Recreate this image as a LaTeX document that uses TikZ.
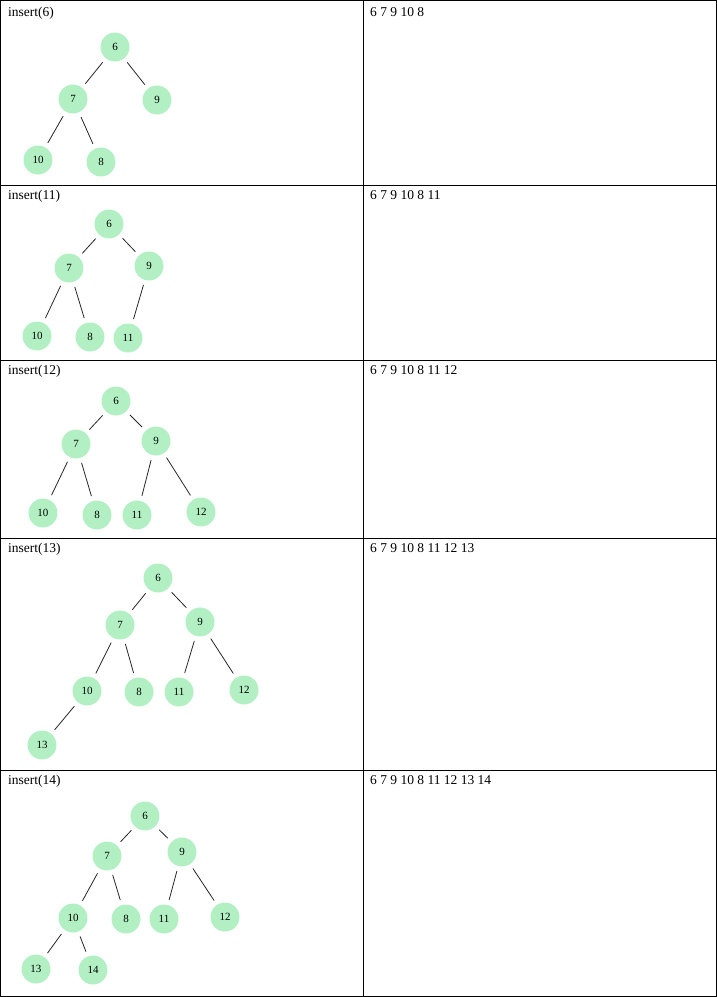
\documentclass[tikz,border=0pt]{standalone}
\usepackage{fontspec}
\setmainfont{Liberation Serif}
\begin{document}
\begin{tikzpicture}[x=1pt,y=-1pt,
  nd/.style={circle,fill={rgb,255:red,178;green,240;blue,196},minimum size=29pt,inner sep=0pt,font=\fontsize{11}{11}\selectfont},
  ed/.style={draw=black!85,line width=0.8pt,shorten >=5pt,shorten <=5pt},
  lbl/.style={anchor=north west,inner sep=0pt,font=\fontsize{13.5}{15}\selectfont}]
\useasboundingbox (0,0) rectangle (717,997);
\draw[line width=0.8pt] (0.5,0.5) rectangle (716.5,996.5);
\draw[line width=0.8pt] (363,0) -- (363,997);
\foreach \y in {185,360,538,770} \draw[line width=0.8pt] (0,\y) -- (717,\y);
% labels
\node[lbl] (l1) at (8,7) {insert(6)};
\node[lbl] (r1) at (370,7) {6 7 9 10 8};
\node[lbl] (l2) at (8,190) {insert(11)};
\node[lbl] (r2) at (370,190) {6 7 9 10 8 11};
\node[lbl] (l3) at (8,365) {insert(12)};
\node[lbl] (r3) at (370,365) {6 7 9 10 8 11 12};
\node[lbl] (l4) at (8,543) {insert(13)};
\node[lbl] (r4) at (370,543) {6 7 9 10 8 11 12 13};
\node[lbl] (l5) at (8,775) {insert(14)};
\node[lbl] (r5) at (370,775) {6 7 9 10 8 11 12 13 14};
% tree 1
\node[nd] (a6) at (115,47) {6};
\node[nd] (a7) at (73,99) {7};
\node[nd] (a9) at (157,100) {9};
\node[nd] (a10) at (38,160) {10};
\node[nd] (a8) at (101,162) {8};
\draw[ed] (a6)--(a7); \draw[ed] (a6)--(a9); \draw[ed] (a7)--(a10); \draw[ed] (a7)--(a8);
% tree 2
\node[nd] (b6) at (109,224) {6};
\node[nd] (b7) at (69,268) {7};
\node[nd] (b9) at (149,266) {9};
\node[nd] (b10) at (37,336) {10};
\node[nd] (b8) at (90,337) {8};
\node[nd] (b11) at (128,338) {11};
\draw[ed] (b6)--(b7); \draw[ed] (b6)--(b9); \draw[ed] (b7)--(b10); \draw[ed] (b7)--(b8); \draw[ed] (b9)--(b11);
% tree 3
\node[nd] (c6) at (116,401) {6};
\node[nd] (c7) at (76,444) {7};
\node[nd] (c9) at (156,441) {9};
\node[nd] (c10) at (43,513) {10};
\node[nd] (c8) at (97,515) {8};
\node[nd] (c11) at (137,515) {11};
\node[nd] (c12) at (201,512) {12};
\draw[ed] (c6)--(c7); \draw[ed] (c6)--(c9); \draw[ed] (c7)--(c10); \draw[ed] (c7)--(c8); \draw[ed] (c9)--(c11); \draw[ed] (c9)--(c12);
% tree 4
\node[nd] (d6) at (158,578) {6};
\node[nd] (d7) at (120,625) {7};
\node[nd] (d9) at (200,622) {9};
\node[nd] (d10) at (87,691) {10};
\node[nd] (d8) at (139,692) {8};
\node[nd] (d11) at (179,692) {11};
\node[nd] (d12) at (244,690) {12};
\node[nd] (d13) at (42,745) {13};
\draw[ed] (d6)--(d7); \draw[ed] (d6)--(d9); \draw[ed] (d7)--(d10); \draw[ed] (d7)--(d8); \draw[ed] (d9)--(d11); \draw[ed] (d9)--(d12); \draw[ed] (d10)--(d13);
% tree 5
\node[nd] (e6) at (145,816) {6};
\node[nd] (e7) at (107,856) {7};
\node[nd] (e9) at (182,852) {9};
\node[nd] (e10) at (73,918) {10};
\node[nd] (e8) at (126,919) {8};
\node[nd] (e11) at (164,919) {11};
\node[nd] (e12) at (225,917) {12};
\node[nd] (e13) at (36,969) {13};
\node[nd] (e14) at (93,970) {14};
\draw[ed] (e6)--(e7); \draw[ed] (e6)--(e9); \draw[ed] (e7)--(e10); \draw[ed] (e7)--(e8); \draw[ed] (e9)--(e11); \draw[ed] (e9)--(e12); \draw[ed] (e10)--(e13); \draw[ed] (e10)--(e14);
\end{tikzpicture}
\end{document}
